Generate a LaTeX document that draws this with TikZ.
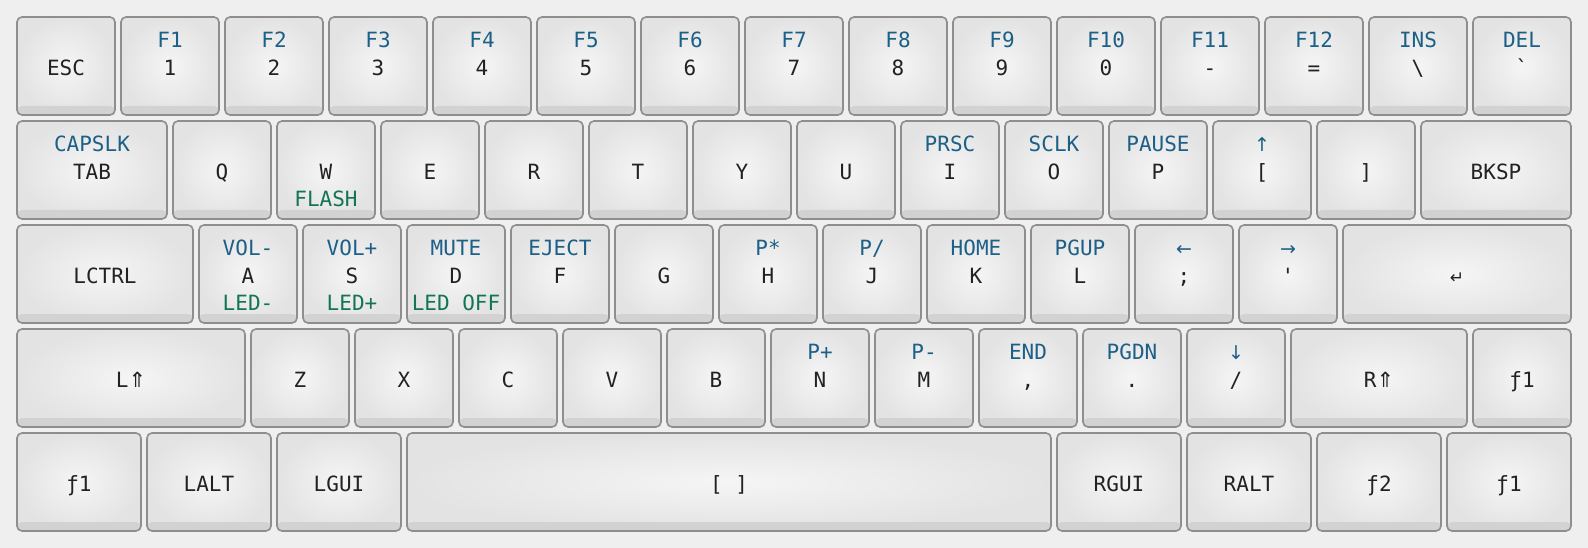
\documentclass[tikz,border=0pt]{standalone}
\usepackage{fontspec}
\usepackage{tikz}
\usetikzlibrary{positioning,calc}
\newfontfamily\keyfont{DejaVu Sans Mono}
\newfontfamily\arrowfont{DejaVu Sans}

\definecolor{board}{HTML}{EFEFEF}
\definecolor{keyrim}{HTML}{8E8E8E}
\definecolor{keyhi}{HTML}{F5F5F5}
\definecolor{keylo}{HTML}{E3E3E3}
\definecolor{keyfoot}{HTML}{D2D2D2}
\definecolor{keyink}{HTML}{222222}
\definecolor{legblue}{HTML}{1C5F87}
\definecolor{leggreen}{HTML}{137552}

\tikzset{
  keycap/.style={draw=keyrim, line width=1.6pt, rounded corners=5pt,
    inner sep=0pt, outer sep=0pt, minimum height=98pt, minimum width=98pt,
    inner color=keyhi, outer color=keylo, text=keyink,
    font=\keyfont\fontsize{21}{24}\selectfont, text height=22pt, text depth=3pt,
    path picture={\fill[keyfoot] ([yshift=9pt]path picture bounding box.south west)
      rectangle (path picture bounding box.south east);}},
  wide/.style={minimum width=#1*104pt-6pt},
  toplab/.style={inner sep=0pt, text=legblue,
    font=\keyfont\fontsize{21}{24}\selectfont, text height=14pt, text depth=3pt},
  botlab/.style={toplab, text=leggreen},
  arrowlab/.style={toplab, font=\arrowfont\fontsize{19}{24}\selectfont}
}

\begin{document}
\begin{tikzpicture}[x=104pt, y=-104pt]
                \path[use as bounding box, fill=board] (-14pt,14pt) rectangle (1574pt,-534pt);

                % Row 1
                \node[keycap] (esc) at (0.5,0.5) {ESC};
                \node[keycap] (n1) at (1.5,0.5) {1};
                \node[keycap] (n2) at (2.5,0.5) {2};
                \node[keycap] (n3) at (3.5,0.5) {3};
                \node[keycap] (n4) at (4.5,0.5) {4};
                \node[keycap] (n5) at (5.5,0.5) {5};
                \node[keycap] (n6) at (6.5,0.5) {6};
                \node[keycap] (n7) at (7.5,0.5) {7};
                \node[keycap] (n8) at (8.5,0.5) {8};
                \node[keycap] (n9) at (9.5,0.5) {9};
                \node[keycap] (n0) at (10.5,0.5) {0};
                \node[keycap] (minus) at (11.5,0.5) {-};
                \node[keycap] (equal) at (12.5,0.5) {=};
                \node[keycap] (bslash) at (13.5,0.5) {\textbackslash};
                \node[keycap] (grave) at (14.5,0.5) {\symbol{96}};
                \node[toplab] (f1) at ([yshift=-25pt]n1.north) {F1};
                \node[toplab] (f2) at ([yshift=-25pt]n2.north) {F2};
                \node[toplab] (f3) at ([yshift=-25pt]n3.north) {F3};
                \node[toplab] (f4) at ([yshift=-25pt]n4.north) {F4};
                \node[toplab] (f5) at ([yshift=-25pt]n5.north) {F5};
                \node[toplab] (f6) at ([yshift=-25pt]n6.north) {F6};
                \node[toplab] (f7) at ([yshift=-25pt]n7.north) {F7};
                \node[toplab] (f8) at ([yshift=-25pt]n8.north) {F8};
                \node[toplab] (f9) at ([yshift=-25pt]n9.north) {F9};
                \node[toplab] (f10) at ([yshift=-25pt]n0.north) {F10};
                \node[toplab] (f11) at ([yshift=-25pt]minus.north) {F11};
                \node[toplab] (f12) at ([yshift=-25pt]equal.north) {F12};
                \node[toplab] (ins) at ([yshift=-25pt]bslash.north) {INS};
                \node[toplab] (del) at ([yshift=-25pt]grave.north) {DEL};

                % Row 2
                \node[keycap, wide=1.5] (tab) at (0.75,1.5) {TAB};
                \node[keycap] (q) at (2,1.5) {Q};
                \node[keycap] (w) at (3,1.5) {W};
                \node[keycap] (e) at (4,1.5) {E};
                \node[keycap] (r) at (5,1.5) {R};
                \node[keycap] (t) at (6,1.5) {T};
                \node[keycap] (y) at (7,1.5) {Y};
                \node[keycap] (u) at (8,1.5) {U};
                \node[keycap] (i) at (9,1.5) {I};
                \node[keycap] (o) at (10,1.5) {O};
                \node[keycap] (p) at (11,1.5) {P};
                \node[keycap] (lbrack) at (12,1.5) {[};
                \node[keycap] (rbrack) at (13,1.5) {]};
                \node[keycap, wide=1.5] (bksp) at (14.25,1.5) {BKSP};
                \node[toplab] (capslk) at ([yshift=-25pt]tab.north) {CAPSLK};
                \node[toplab] (prsc) at ([yshift=-25pt]i.north) {PRSC};
                \node[toplab] (sclk) at ([yshift=-25pt]o.north) {SCLK};
                \node[toplab] (pause) at ([yshift=-25pt]p.north) {PAUSE};
                \node[arrowlab] (up) at ([yshift=-25pt]lbrack.north) {↑};
                \node[botlab] (flash) at ([yshift=-80pt]w.north) {FLASH};

                % Row 3
                \node[keycap, wide=1.75] (lctrl) at (0.875,2.5) {LCTRL};
                \node[keycap] (a) at (2.25,2.5) {A};
                \node[keycap] (s) at (3.25,2.5) {S};
                \node[keycap] (d) at (4.25,2.5) {D};
                \node[keycap] (f) at (5.25,2.5) {F};
                \node[keycap] (g) at (6.25,2.5) {G};
                \node[keycap] (h) at (7.25,2.5) {H};
                \node[keycap] (j) at (8.25,2.5) {J};
                \node[keycap] (k) at (9.25,2.5) {K};
                \node[keycap] (l) at (10.25,2.5) {L};
                \node[keycap] (semi) at (11.25,2.5) {;};
                \node[keycap] (quote) at (12.25,2.5) {\symbol{39}};
                \node[keycap, wide=2.25] (enter) at (13.875,2.5) {\arrowfont\fontsize{17}{20}\selectfont ↵};
                \node[toplab] (voldn) at ([yshift=-25pt]a.north) {VOL-};
                \node[toplab] (volup) at ([yshift=-25pt]s.north) {VOL+};
                \node[toplab] (mute) at ([yshift=-25pt]d.north) {MUTE};
                \node[toplab] (eject) at ([yshift=-25pt]f.north) {EJECT};
                \node[toplab] (pmul) at ([yshift=-25pt]h.north) {P*};
                \node[toplab] (pdiv) at ([yshift=-25pt]j.north) {P/};
                \node[toplab] (home) at ([yshift=-25pt]k.north) {HOME};
                \node[toplab] (pgup) at ([yshift=-25pt]l.north) {PGUP};
                \node[arrowlab] (left) at ([yshift=-25pt]semi.north) {←};
                \node[arrowlab] (right) at ([yshift=-25pt]quote.north) {→};
                \node[botlab] (leddn) at ([yshift=-80pt]a.north) {LED-};
                \node[botlab] (ledup) at ([yshift=-80pt]s.north) {LED+};
                \node[botlab] (ledoff) at ([yshift=-80pt]d.north) {LED OFF};

                % Row 4
                \node[keycap, wide=2.25] (lshift) at (1.125,3.5) {L{\arrowfont ⇑}};
                \node[keycap] (z) at (2.75,3.5) {Z};
                \node[keycap] (x) at (3.75,3.5) {X};
                \node[keycap] (c) at (4.75,3.5) {C};
                \node[keycap] (v) at (5.75,3.5) {V};
                \node[keycap] (b) at (6.75,3.5) {B};
                \node[keycap] (n) at (7.75,3.5) {N};
                \node[keycap] (m) at (8.75,3.5) {M};
                \node[keycap] (comma) at (9.75,3.5) {,};
                \node[keycap] (period) at (10.75,3.5) {.};
                \node[keycap] (slash) at (11.75,3.5) {/};
                \node[keycap, wide=1.75] (rshift) at (13.125,3.5) {R{\arrowfont ⇑}};
                \node[keycap] (fnone) at (14.5,3.5) {ƒ1};
                \node[toplab] (pplus) at ([yshift=-25pt]n.north) {P+};
                \node[toplab] (pminus) at ([yshift=-25pt]m.north) {P-};
                \node[toplab] (end) at ([yshift=-25pt]comma.north) {END};
                \node[toplab] (pgdn) at ([yshift=-25pt]period.north) {PGDN};
                \node[arrowlab] (down) at ([yshift=-25pt]slash.north) {↓};

                % Row 5
                \node[keycap, wide=1.25] (lfn) at (0.625,4.5) {ƒ1};
                \node[keycap, wide=1.25] (lalt) at (1.875,4.5) {LALT};
                \node[keycap, wide=1.25] (lgui) at (3.125,4.5) {LGUI};
                \node[keycap, wide=6.25] (space) at (6.875,4.5) {[ ]};
                \node[keycap, wide=1.25] (rgui) at (10.625,4.5) {RGUI};
                \node[keycap, wide=1.25] (ralt) at (11.875,4.5) {RALT};
                \node[keycap, wide=1.25] (fntwo) at (13.125,4.5) {ƒ2};
                \node[keycap, wide=1.25] (rfn) at (14.375,4.5) {ƒ1};
            \end{tikzpicture}
\end{document}
